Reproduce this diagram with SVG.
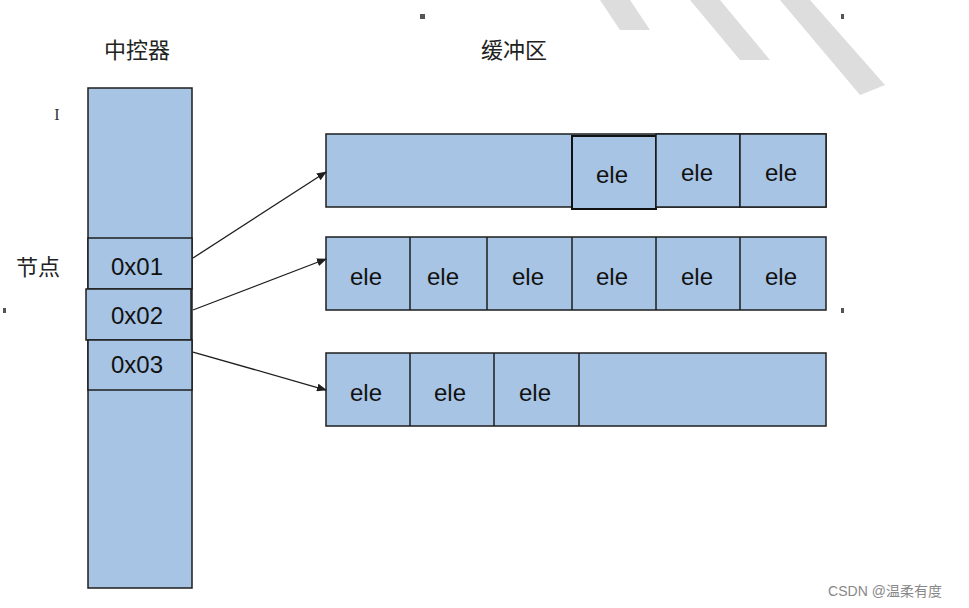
<svg xmlns="http://www.w3.org/2000/svg" width="969" height="608" viewBox="0 0 969 608">
<style>
.b{fill:#a7c4e4;stroke:#1e1e1e;stroke-width:1.5}
.t{font-family:"Liberation Sans","Noto Sans CJK SC",sans-serif;font-size:24px;fill:#111;text-anchor:middle}
.c{font-family:"Noto Sans CJK SC",sans-serif;font-size:22px;fill:#222;text-anchor:middle}
.l{stroke:#1e1e1e;stroke-width:1.3;fill:none;marker-end:url(#a)}
</style>
<defs><marker id="a" markerWidth="10" markerHeight="8" refX="9" refY="4" orient="auto" markerUnits="userSpaceOnUse"><path d="M0,0L10,4L0,8z" fill="#1e1e1e"/></marker></defs>
<rect width="969" height="608" fill="#fff"/>
<g fill="#ddd"><path d="M600,0h30l20,30h-30z"/><path d="M690,0h30l50,60h-30z"/><path d="M780,0h30l75,85l-25,10z"/></g>
<g fill="#555"><rect x="420" y="14" width="5" height="5"/><rect x="3" y="308" width="3" height="5"/><rect x="841" y="308" width="3" height="5"/><rect x="841" y="14" width="3" height="5"/></g>
<text x="57" y="120" font-family="Liberation Serif,serif" font-size="16" text-anchor="middle" fill="#333">I</text>
<text class="c" x="137" y="58">中控器</text>
<text class="c" x="514" y="58">缓冲区</text>
<text class="c" x="38" y="275">节点</text>
<g id="controller"><rect class="b" x="88" y="88" width="104" height="500"/></g>
<g id="n1"><rect class="b" x="88" y="238" width="104" height="51"/><text class="t" x="137" y="275">0x01</text></g>
<g id="n2"><rect class="b" x="86" y="289" width="105" height="51"/><text class="t" x="137" y="324">0x02</text></g>
<g id="n3"><rect class="b" x="88" y="340" width="104" height="50"/><text class="t" x="137" y="373">0x03</text></g>
<g id="buf1"><rect class="b" x="326" y="134" width="500" height="73"/>
<rect class="b" x="572" y="136" width="84" height="73" style="stroke:#111;stroke-width:2"/><text class="t" x="612" y="183">ele</text>
<rect class="b" x="656" y="134" width="84" height="73"/><text class="t" x="697" y="181">ele</text>
<rect class="b" x="740" y="134" width="86" height="73"/><text class="t" x="781" y="181">ele</text></g>
<g id="buf2"><rect class="b" x="326" y="237" width="500" height="73"/>
<path d="M410,237v73M487,237v73M572,237v73M656,237v73M740,237v73" stroke="#1e1e1e" stroke-width="1.5"/>
<g class="t"><text class="t" x="366" y="285">ele</text><text class="t" x="443" y="285">ele</text><text class="t" x="528" y="285">ele</text><text class="t" x="612" y="285">ele</text><text class="t" x="697" y="285">ele</text><text class="t" x="781" y="285">ele</text></g></g>
<g id="buf3"><rect class="b" x="326" y="353" width="500" height="73"/>
<path d="M410,353v73M494,353v73M579,353v73" stroke="#1e1e1e" stroke-width="1.5"/>
<text class="t" x="366" y="401">ele</text><text class="t" x="450" y="401">ele</text><text class="t" x="535" y="401">ele</text></g>
<g id="connectors"><path class="l" d="M193,258L326,172"/><path class="l" d="M193,310L326,259"/><path class="l" d="M193,352L326,390"/></g>
<text x="885" y="596" font-family="Liberation Sans,Noto Sans CJK SC,sans-serif" font-size="14" fill="#888" text-anchor="middle">CSDN @温柔有度</text>
</svg>
